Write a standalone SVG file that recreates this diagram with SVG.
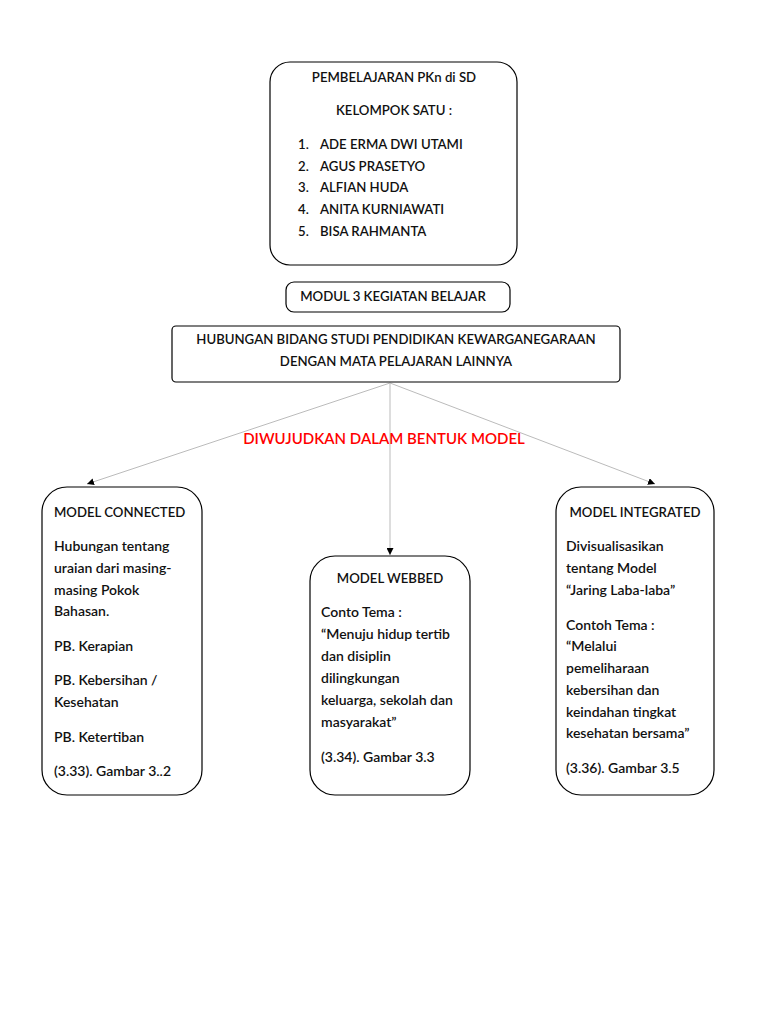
<svg xmlns="http://www.w3.org/2000/svg" width="768" height="1024" viewBox="0 0 768 1024">
<defs>
<marker id="ah" viewBox="0 0 10 10" refX="10" refY="5" markerWidth="7" markerHeight="7" orient="auto" markerUnits="userSpaceOnUse">
<path d="M0,0 L10,5 L0,10 z" fill="#000"/>
</marker>
<style>
.box{fill:#fff;stroke:#000;stroke-width:1.2}
text{font-family:Lato,"Open Sans",sans-serif;font-size:14px;font-weight:600;fill:#111}
.k{font-size:13.2px}
.c{text-anchor:middle}
.red{fill:#ff0000;font-size:15px}
.conn{stroke:#bbb;stroke-width:1;fill:none}
</style>
</defs>
<rect width="768" height="1024" fill="#fff"/>
<g id="connectors">
<line class="conn" x1="390" y1="383" x2="87" y2="484" marker-end="url(#ah)"/>
<line class="conn" x1="390" y1="383" x2="390" y2="555" marker-end="url(#ah)"/>
<line class="conn" x1="390" y1="383" x2="655" y2="484" marker-end="url(#ah)"/>
</g>
<g id="label-red"><text class="c red" x="384" y="444">DIWUJUDKAN DALAM BENTUK MODEL</text></g>
<g id="top">
<rect class="box" x="270" y="62" width="247" height="203" rx="20"/>
<text class="c k" x="394" y="82">PEMBELAJARAN PKn di SD</text>
<text class="c k" x="394" y="115">KELOMPOK SATU :</text>
<text class="k" x="298" y="149">1.</text><text class="k" x="320" y="149">ADE ERMA DWI UTAMI</text>
<text class="k" x="298" y="171">2.</text><text class="k" x="320" y="171">AGUS PRASETYO</text>
<text class="k" x="298" y="192">3.</text><text class="k" x="320" y="192">ALFIAN HUDA</text>
<text class="k" x="298" y="214">4.</text><text class="k" x="320" y="214">ANITA KURNIAWATI</text>
<text class="k" x="298" y="236">5.</text><text class="k" x="320" y="236">BISA RAHMANTA</text>
</g>
<g id="modul">
<rect class="box" x="286" y="282" width="224" height="30" rx="8"/>
<text class="c k" x="393" y="301">MODUL 3 KEGIATAN BELAJAR</text>
</g>
<g id="hubungan">
<rect class="box" x="172" y="326" width="448" height="56" rx="4"/>
<text class="c k" x="396" y="344">HUBUNGAN BIDANG STUDI PENDIDIKAN KEWARGANEGARAAN</text>
<text class="c k" x="396" y="366">DENGAN MATA PELAJARAN LAINNYA</text>
</g>
<g id="connected">
<rect class="box" x="42" y="487" width="160" height="308" rx="25"/>
<text class="k" x="54" y="517">MODEL CONNECTED</text>
<text x="54" y="551">Hubungan tentang</text>
<text x="54" y="573">uraian dari masing-</text>
<text x="54" y="595">masing Pokok</text>
<text x="54" y="616">Bahasan.</text>
<text x="54" y="651">PB. Kerapian</text>
<text x="54" y="685">PB. Kebersihan /</text>
<text x="54" y="707">Kesehatan</text>
<text x="54" y="742">PB. Ketertiban</text>
<text x="54" y="776">(3.33). Gambar 3..2</text>
</g>
<g id="webbed">
<rect class="box" x="310" y="556" width="160" height="239" rx="25"/>
<text class="c k" x="390" y="583">MODEL WEBBED</text>
<text x="321" y="617">Conto Tema :</text>
<text x="321" y="639">“Menuju hidup tertib</text>
<text x="321" y="661">dan disiplin</text>
<text x="321" y="683">dilingkungan</text>
<text x="321" y="705">keluarga, sekolah dan</text>
<text x="321" y="727">masyarakat”</text>
<text x="321" y="762">(3.34). Gambar 3.3</text>
</g>
<g id="integrated">
<rect class="box" x="556" y="487" width="158" height="308" rx="25"/>
<text class="c k" x="635" y="517">MODEL INTEGRATED</text>
<text x="566" y="551">Divisualisasikan</text>
<text x="566" y="573">tentang Model</text>
<text x="566" y="595">“Jaring Laba-laba”</text>
<text x="566" y="630">Contoh Tema :</text>
<text x="566" y="651">“Melalui</text>
<text x="566" y="673">pemeliharaan</text>
<text x="566" y="695">kebersihan dan</text>
<text x="566" y="717">keindahan tingkat</text>
<text x="566" y="738">kesehatan bersama”</text>
<text x="566" y="773">(3.36). Gambar 3.5</text>
</g>
</svg>
